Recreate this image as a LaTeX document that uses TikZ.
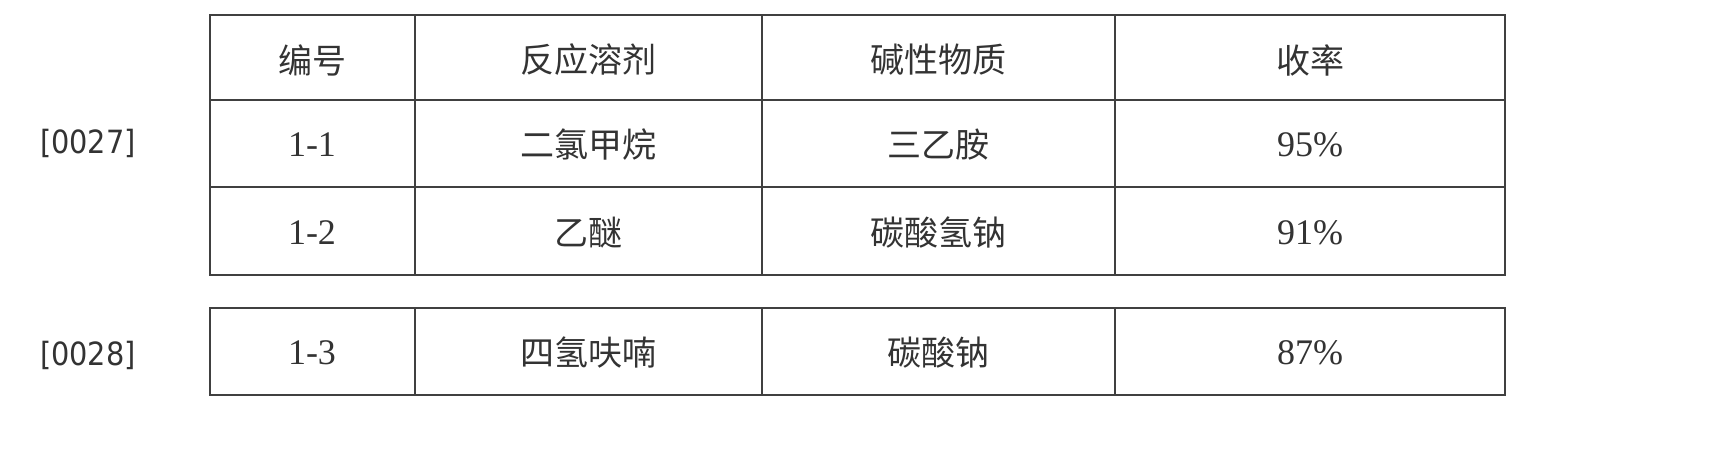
\documentclass[tikz,border=0pt]{standalone}
\usepackage{fontspec}
\setmainfont{Liberation Serif}
\newfontfamily\cjk{Noto Sans CJK SC}
\newfontfamily\lblfont{DejaVu Sans Condensed}
\begin{document}
\begin{tikzpicture}[x=1pt,y=-1pt,
  cell/.style={font=\fontsize{34}{40}\selectfont\cjk, text=black!80, inner sep=0},
  num/.style={font=\fontsize{36}{40}\selectfont, text=black!80, inner sep=0},
  lbl/.style={font=\fontsize{32}{36}\selectfont\lblfont, text=black!80, inner sep=0},
  rule/.style={draw=black!75, line width=2.5pt}]
\useasboundingbox (0,0) rectangle (1710,454);
\draw[rule] (210,15) rectangle (1505,275);
\draw[rule] (210,100) -- (1505,100);
\draw[rule] (210,187) -- (1505,187);
\foreach \x in {415,762,1115} \draw[rule] (\x,15) -- (\x,275);
\draw[rule] (210,308) rectangle (1505,395);
\foreach \x in {415,762,1115} \draw[rule] (\x,308) -- (\x,395);
\node[lbl] (l1) at (88,143) {[0027]};
\node[lbl] (l2) at (88,355) {[0028]};
\node[cell] (h1) at (312,60) {编号};
\node[cell] (h2) at (588,60) {反应溶剂};
\node[cell] (h3) at (938,60) {碱性物质};
\node[cell] (h4) at (1310,60) {收率};
\node[num] (a1) at (312,145) {1-1};
\node[cell] (a2) at (588,145) {二氯甲烷};
\node[cell] (a3) at (938,145) {三乙胺};
\node[num] (a4) at (1310,145) {95\%};
\node[num] (b1) at (312,233) {1-2};
\node[cell] (b2) at (588,233) {乙醚};
\node[cell] (b3) at (938,233) {碳酸氢钠};
\node[num] (b4) at (1310,233) {91\%};
\node[num] (c1) at (312,353) {1-3};
\node[cell] (c2) at (588,353) {四氢呋喃};
\node[cell] (c3) at (938,353) {碳酸钠};
\node[num] (c4) at (1310,353) {87\%};
\end{tikzpicture}
\end{document}
